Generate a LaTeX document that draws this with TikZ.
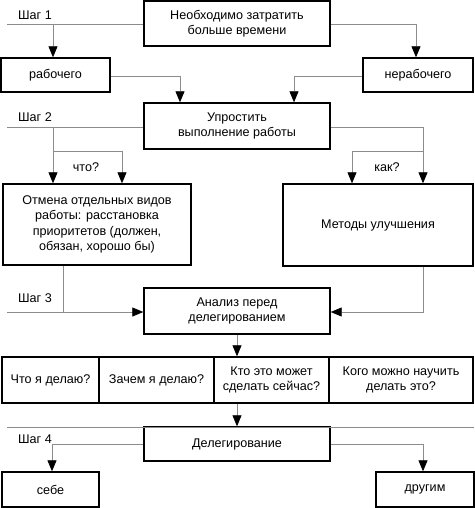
\documentclass[tikz,border=0pt]{standalone}
\usepackage{fontspec}
\setmainfont{Liberation Sans}
\usetikzlibrary{arrows.meta}
\begin{document}
\begin{tikzpicture}[x=1pt,y=-1pt,
 box/.style={draw=black,line width=1.4pt,inner sep=0pt,align=center,font=\fontsize{12.6}{15.5}\selectfont},
 conn/.style={draw=black!45,line width=0.8pt},
 arr/.style={conn,-{Triangle[length=11pt,width=9pt,color=black]}},
 lbl/.style={font=\fontsize{12.6}{14}\selectfont,inner sep=0pt}]
\useasboundingbox (0,0) rectangle (474,508);
% boxes
\node[box,minimum width=186pt,minimum height=45pt] (top) at (237,23.5) {Необходимо затратить\\больше времени};
\node[box,minimum width=109pt,minimum height=34pt] (rab) at (55.5,75) {рабочего};
\node[box,minimum width=110pt,minimum height=34pt] (nerab) at (418,75) {нерабочего};
\node[box,minimum width=186pt,minimum height=46pt] (upr) at (237,126) {Упростить\\выполнение работы};
\node[box,minimum width=188pt,minimum height=81pt] (otm) at (97,224.5) {Отмена отдельных видов\\работы: расстановка\\приоритетов (должен,\\обязан, хорошо бы)};
\node[box,minimum width=190pt,minimum height=82pt] (met) at (378,225) {Методы улучшения};
\node[box,minimum width=186pt,minimum height=46pt] (an) at (237,311) {Анализ перед\\делегированием};
\node[box,minimum width=97pt,minimum height=46pt] (q1) at (50.5,380) {Что я делаю?};
\node[box,minimum width=115pt,minimum height=46pt] (q2) at (156.5,380) {Зачем я делаю?};
\node[box,minimum width=115pt,minimum height=46pt] (q3) at (271.5,380) {Кто это может\\сделать сейчас?};
\node[box,minimum width=144pt,minimum height=46pt] (q4) at (401,380) {Кого можно научить\\делать это?};
\node[box,minimum width=186pt,minimum height=34pt] (del) at (237,444) {Делегирование};
\node[box,minimum width=97pt,minimum height=35pt] (seb) at (50.5,489.5) {себе};
\node[box,minimum width=98pt,minimum height=35pt] (dr) at (425,489.5) {другим};
% labels
\node[lbl] (l1) at (35,15) {Шаг 1};
\node[lbl] (l2) at (35,117) {Шаг 2};
\node[lbl] (l3) at (35,298) {Шаг 3};
\node[lbl] (l4) at (35,439) {Шаг 4};
\node[lbl] (w1) at (86,167) {что?};
\node[lbl] (w2) at (387,167) {как?};
% step 1
\coordinate (s1) at (7,24);
\coordinate (b1) at (53,24);
\coordinate (c1) at (416,24);
\draw[conn] (s1) -- (s1 -| top.west);
\draw[arr] (b1) -- (b1 |- rab.north);
\draw[arr] (c1 -| top.east) -- (c1) -- (c1 |- nerab.north);
\coordinate (c2) at (180,76);
\coordinate (c3) at (294,76);
\draw[arr] (c2 -| rab.east) -- (c2) -- (c2 |- upr.north);
\draw[arr] (c3 -| nerab.west) -- (c3) -- (c3 |- upr.north);
% step 2
\coordinate (s2) at (7,127);
\coordinate (b2) at (53,127);
\coordinate (b3) at (53,151);
\coordinate (b4) at (122,151);
\draw[conn] (s2) -- (s2 -| upr.west);
\draw[arr] (b2) -- (b2 |- otm.north);
\draw[arr] (b3) -- (b4) -- (b4 |- otm.north);
\coordinate (c4) at (423,127);
\coordinate (c5) at (423,151);
\coordinate (c6) at (352,151);
\draw[arr] (c4 -| upr.east) -- (c4) -- (c4 |- met.north);
\draw[arr] (c5) -- (c6) -- (c6 |- met.north);
% step 3
\coordinate (s3) at (7,312);
\coordinate (b5) at (63,312);
\draw[conn] (otm.south -| b5) -- (b5);
\draw[arr] (s3) -- (s3 -| an.west);
\coordinate (c7) at (423,312);
\draw[arr] (met.south -| c7) -- (c7) -- (c7 -| an.east);
\draw[arr] (an.south) -- (an.south |- q3.north);
\draw[arr] (q3.south -| an.south) -- (del.north);
% step 4
\coordinate (s4) at (7,427);
\coordinate (e4) at (474,427);
\draw[conn] (s4) -- (e4);
\coordinate (b6) at (52,444);
\coordinate (c8) at (423,444);
\draw[arr] (del.west) -- (b6) -- (b6 |- seb.north);
\draw[arr] (del.east) -- (c8) -- (c8 |- dr.north);
\end{tikzpicture}
\end{document}
